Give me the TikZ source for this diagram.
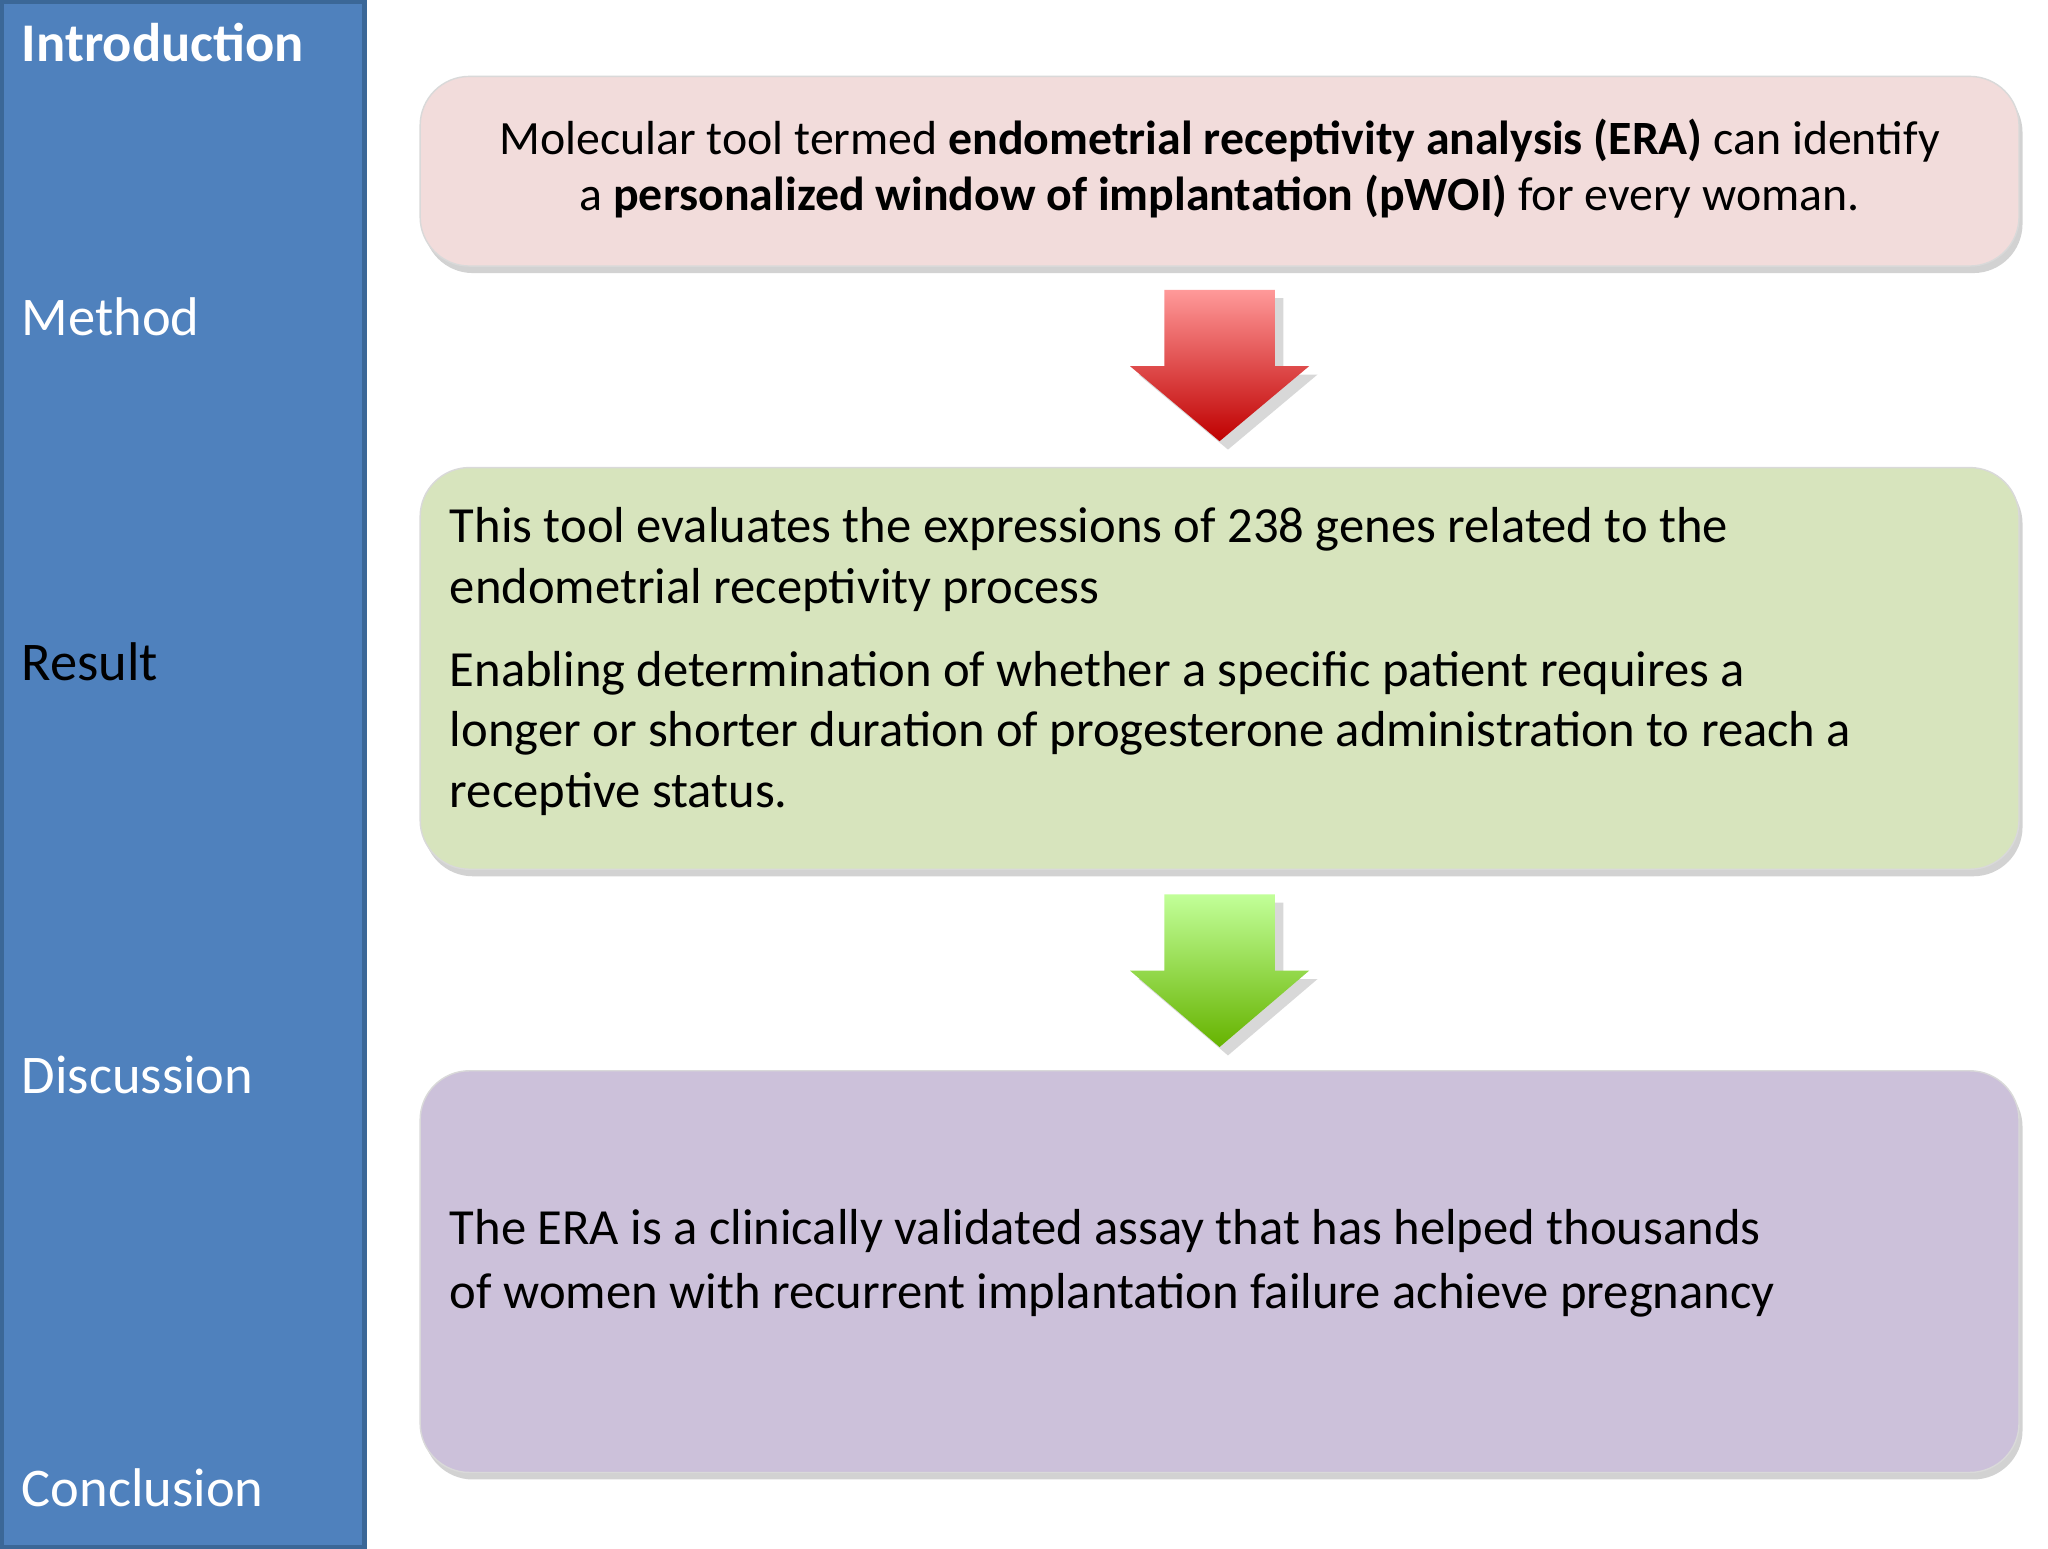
\documentclass[tikz,border=0pt]{standalone}
\usepackage{fontspec}
\setmainfont{Carlito}
\usetikzlibrary{shadows}
\definecolor{side}{HTML}{4F81BD}
\definecolor{sideb}{HTML}{3B6797}
\definecolor{pinkb}{HTML}{F2DCDB}
\definecolor{greenb}{HTML}{D7E4BD}
\definecolor{purpb}{HTML}{CCC1DA}
\begin{document}
\begin{tikzpicture}[x=0.01317cm,y=-0.01317cm,
  box/.style={rounded corners=14pt,draw=white!85!black,line width=0.4pt,drop shadow={shadow xshift=1pt,shadow yshift=-2pt,opacity=0.35}},
  slabel/.style={anchor=base west,font=\fontsize{15.5}{18}\selectfont,text=white,inner sep=0pt},
  btext/.style={anchor=north west,align=left,inner sep=0pt},
]
\useasboundingbox (0,0) rectangle (1555,1176);
\fill[white] (0,0) rectangle (1555,1176);
\filldraw[fill=side,draw=sideb,line width=1.5pt] (1,1) rectangle (277,1175);
\node[slabel,font=\fontsize{15.5}{18}\selectfont\bfseries] (intro) at (16,47) {Introduction};
\node[slabel] (meth) at (16,255) {Method};
\node[slabel,text=black] (res) at (16,517) {Result};
\node[slabel] (disc) at (16,830) {Discussion};
\node[slabel] (conc) at (16,1144) {Conclusion};

\fill[pinkb,box] (319,58) rectangle (1533,202);
\node[align=center,font=\fontsize{13.6}{16.2}\selectfont] (t1) at (926,128) {Molecular tool termed \textbf{endometrial receptivity analysis (ERA)} can identify\\a \textbf{personalized window of implantation (pWOI)} for every woman.};

\shade[top color=red!40!white,bottom color=red!75!black,drop shadow={opacity=0.3}] (884,220) -- (968,220) -- (968,278) -- (994,278) -- (926,335) -- (858,278) -- (884,278) -- cycle;

\fill[greenb,box] (319,355) rectangle (1533,660);
\node[btext,font=\fontsize{14.4}{17.2}\selectfont] (t2) at (341,385) {This tool evaluates the expressions of 238 genes related to the\\endometrial receptivity process};
\node[btext,font=\fontsize{14.4}{17.2}\selectfont] (t3) at (341,494) {Enabling determination of whether a specific patient requires a\\longer or shorter duration of progesterone administration to reach a\\receptive status.};

\shade[top color=yellow!40!green!40!white,bottom color=green!50!black!60!yellow,drop shadow={opacity=0.3}] (884,679) -- (968,679) -- (968,737) -- (994,737) -- (926,795) -- (858,737) -- (884,737) -- cycle;

\fill[purpb,box] (319,813) rectangle (1533,1118);
\node[btext,font=\fontsize{14.4}{18}\selectfont] (t4) at (341,918) {The ERA is a clinically validated assay that has helped thousands\\of women with recurrent implantation failure achieve pregnancy};
\end{tikzpicture}
\end{document}
